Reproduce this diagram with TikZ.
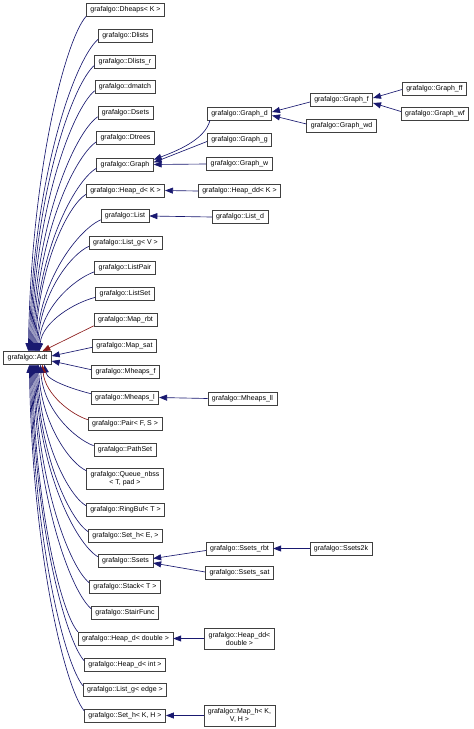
\documentclass[tikz,border=0pt]{standalone}
\usepackage{fontspec}
\setmainfont{Liberation Sans}
\usetikzlibrary{arrows.meta,calc}
\definecolor{navyedge}{HTML}{191970}
\definecolor{rededge}{HTML}{8B1A1A}
\begin{document}
\begin{tikzpicture}[x=1pt,y=1pt,
  cls/.style={draw=black!75, fill=white, line width=0.6pt, font=\fontsize{7}{8}\selectfont, inner xsep=4pt, inner ysep=1pt, minimum height=13pt, align=center},
  cls2/.style={cls, minimum height=21pt},
  inh/.style={navyedge, line width=0.65pt, -{Triangle[length=8pt,width=6pt]}},
  inhp/.style={inh, rededge}]
\useasboundingbox (0,0) rectangle (474,-729);
% left column
\node[cls] (adt) at (27.5,-358) {grafalgo::Adt};
\node[cls] (dheaps) at (125.5,-9.5) {grafalgo::Dheaps< K >};
\node[cls] (dlists) at (125.5,-35.5) {grafalgo::Dlists};
\node[cls] (dlistsr) at (125,-61.5) {grafalgo::Dlists\_r};
\node[cls] (dmatch) at (125,-87) {grafalgo::dmatch};
\node[cls] (dsets) at (125.5,-113) {grafalgo::Dsets};
\node[cls] (dtrees) at (125.5,-138) {grafalgo::Dtrees};
\node[cls] (graph) at (125,-164.5) {grafalgo::Graph};
\node[cls] (heapdk) at (125.5,-190.5) {grafalgo::Heap\_d< K >};
\node[cls] (list) at (125,-216) {grafalgo::List};
\node[cls] (listgv) at (125.5,-242.5) {grafalgo::List\_g< V >};
\node[cls] (listpair) at (125,-268) {grafalgo::ListPair};
\node[cls] (listset) at (125,-293.5) {grafalgo::ListSet};
\node[cls] (maprbt) at (125.5,-320) {grafalgo::Map\_rbt};
\node[cls] (mapsat) at (124.5,-345.5) {grafalgo::Map\_sat};
\node[cls] (mheapsf) at (125.5,-371.5) {grafalgo::Mheaps\_f};
\node[cls] (mheapsl) at (125,-397.5) {grafalgo::Mheaps\_l};
\node[cls] (pair) at (125,-423.5) {grafalgo::Pair< F, S >};
\node[cls] (pathset) at (125,-449.5) {grafalgo::PathSet};
\node[cls2] (queue) at (125,-478.5) {grafalgo::Queue\_nbss\\< T, pad >};
\node[cls] (ringbuf) at (125.5,-509.5) {grafalgo::RingBuf< T >};
\node[cls] (sethe) at (125.5,-535.5) {grafalgo::Set\_h< E, >};
\node[cls] (ssets) at (125.5,-560.5) {grafalgo::Ssets};
\node[cls] (stack) at (125,-586.5) {grafalgo::Stack< T >};
\node[cls] (stairfunc) at (125,-612.5) {grafalgo::StairFunc};
\node[cls] (heapdd) at (125.5,-638.5) {grafalgo::Heap\_d< double >};
\node[cls] (heapdi) at (125,-664.5) {grafalgo::Heap\_d< int >};
\node[cls] (listge) at (125,-689.5) {grafalgo::List\_g< edge >};
\node[cls] (sethkh) at (125,-715.5) {grafalgo::Set\_h< K, H >};
% right columns
\node[cls] (graphd) at (239.5,-113.5) {grafalgo::Graph\_d};
\node[cls] (graphg) at (239.5,-139.5) {grafalgo::Graph\_g};
\node[cls] (graphw) at (239.5,-164) {grafalgo::Graph\_w};
\node[cls] (graphf) at (341.5,-100) {grafalgo::Graph\_f};
\node[cls] (graphwd) at (341.5,-125.5) {grafalgo::Graph\_wd};
\node[cls] (graphff) at (434.5,-88.5) {grafalgo::Graph\_ff};
\node[cls] (graphwf) at (435,-113.5) {grafalgo::Graph\_wf};
\node[cls] (heapddk) at (239.5,-191) {grafalgo::Heap\_dd< K >};
\node[cls] (listd) at (240,-217) {grafalgo::List\_d};
\node[cls] (mheapsll) at (242.5,-398.5) {grafalgo::Mheaps\_ll};
\node[cls] (ssetsrbt) at (239.5,-548.5) {grafalgo::Ssets\_rbt};
\node[cls] (ssetssat) at (239.5,-573) {grafalgo::Ssets\_sat};
\node[cls] (ssets2k) at (341,-548.5) {grafalgo::Ssets2k};
\node[cls2] (heapdddbl) at (239.5,-638.5) {grafalgo::Heap\_dd<\\double >};
\node[cls2] (maph) at (239.5,-715.5) {grafalgo::Map\_h< K,\\V, H >};
% edges to Adt from above
\draw[inh] (dheaps.south west) .. controls +(-20,-22) and +(3,184) .. ([xshift=25pt]adt.north west);
\draw[inh] ([yshift=3pt]dlists.south west) .. controls +(-24,-21) and +(3,172) .. ([xshift=26pt]adt.north west);
\draw[inh] ([yshift=3pt]dlistsr.south west) .. controls +(-22,-19) and +(3,157) .. ([xshift=27pt]adt.north west);
\draw[inh] ([yshift=3pt]dmatch.south west) .. controls +(-22,-18) and +(3,143) .. ([xshift=28pt]adt.north west);
\draw[inh] ([yshift=3pt]dsets.south west) .. controls +(-23,-16) and +(3,129) .. ([xshift=29pt]adt.north west);
\draw[inh] ([yshift=3pt]dtrees.south west) .. controls +(-22,-15) and +(3,115) .. ([xshift=30pt]adt.north west);
\draw[inh] ([yshift=3pt]graph.south west) .. controls +(-22,-13) and +(3,100) .. ([xshift=31pt]adt.north west);
\draw[inh] ([yshift=3pt]heapdk.south west) .. controls +(-18,-11) and +(3,86) .. ([xshift=32pt]adt.north west);
\draw[inh] ([yshift=3pt]list.south west) .. controls +(-22,-10) and +(3,72) .. ([xshift=33pt]adt.north west);
\draw[inh] ([yshift=3pt]listgv.south west) .. controls +(-18,-8) and +(3,58) .. ([xshift=34pt]adt.north west);
\draw[inh] ([yshift=3pt]listpair.south west) .. controls +(-20,-7) and +(3,44) .. ([xshift=35pt]adt.north west);
\draw[inh] ([yshift=3pt]listset.south west) .. controls +(-20,-5) and +(3,30) .. ([xshift=36pt]adt.north west);
\draw[inhp] ([yshift=1pt]maprbt.south west) -- ([xshift=39pt]adt.north west);
\draw[inh] ([yshift=5pt]mapsat.south west) -- ([yshift=2pt]adt.east);
\draw[inh] ([yshift=-5pt]mheapsf.north west) -- ([yshift=-3pt]adt.east);
% edges to Adt from below
\draw[inh] ([yshift=-3pt]mheapsl.north west) .. controls +(-16,4) and +(3,-16) .. ([xshift=41pt]adt.south west);
\draw[inhp] ([yshift=-3pt]pair.north west) .. controls +(-16,5) and +(3,-30) .. ([xshift=39pt]adt.south west);
\draw[inh] ([yshift=-3pt]pathset.north west) .. controls +(-19,7) and +(3,-45) .. ([xshift=37pt]adt.south west);
\draw[inh] ([yshift=-3pt]queue.north west) .. controls +(-17,8) and +(3,-58) .. ([xshift=35pt]adt.south west);
\draw[inh] ([yshift=-3pt]ringbuf.north west) .. controls +(-17,10) and +(3,-78) .. ([xshift=34pt]adt.south west);
\draw[inh] ([yshift=-3pt]sethe.north west) .. controls +(-18,12) and +(3,-92) .. ([xshift=33pt]adt.south west);
\draw[inh] ([yshift=-3pt]ssets.north west) .. controls +(-22,13) and +(3,-106) .. ([xshift=32pt]adt.south west);
\draw[inh] ([yshift=-3pt]stack.north west) .. controls +(-19,15) and +(3,-120) .. ([xshift=31pt]adt.south west);
\draw[inh] ([yshift=-3pt]stairfunc.north west) .. controls +(-20,17) and +(3,-134) .. ([xshift=30pt]adt.south west);
\draw[inh] (heapdd.north west) .. controls +(-16,18) and +(3,-147) .. ([xshift=29pt]adt.south west);
\draw[inh] ([yshift=-3pt]heapdi.north west) .. controls +(-18,20) and +(3,-163) .. ([xshift=28pt]adt.south west);
\draw[inh] ([yshift=-3pt]listge.north west) .. controls +(-18,21) and +(3,-176) .. ([xshift=27pt]adt.south west);
\draw[inh] ([yshift=-2pt]sethkh.north west) .. controls +(-19,23) and +(3,-190) .. ([xshift=26pt]adt.south west);
% right-side edges
\draw[inh] ([xshift=3pt]graphd.south west) .. controls +(-5,-20) and +(21,8) .. ([yshift=-2pt]graph.north east);
\draw[inh] ([yshift=-2pt]graphg.west) -- ([yshift=2pt]graph.east);
\draw[inh] (graphw.west) -- (graph.east);
\draw[inh] ([yshift=-2pt]graphf.west) -- ([yshift=1.5pt]graphd.east);
\draw[inh] ([yshift=1.5pt]graphwd.west) -- ([yshift=-2pt]graphd.east);
\draw[inh] ([yshift=-1pt]graphff.west) -- ([yshift=2pt]graphf.east);
\draw[inh] ([yshift=2pt]graphwf.west) -- ([yshift=-3pt]graphf.east);
\draw[inh] (heapddk.west) -- (heapdk.east);
\draw[inh] (listd.west) -- (list.east);
\draw[inh] (mheapsll.west) -- (mheapsl.east);
\draw[inh] ([yshift=-2pt]ssetsrbt.west) -- ([yshift=2pt]ssets.east);
\draw[inh] ([yshift=1pt]ssetssat.west) -- ([yshift=-2.5pt]ssets.east);
\draw[inh] (ssets2k.west) -- (ssetsrbt.east);
\draw[inh] (heapdddbl.west) -- (heapdd.east);
\draw[inh] (maph.west) -- (sethkh.east);
\end{tikzpicture}
\end{document}
